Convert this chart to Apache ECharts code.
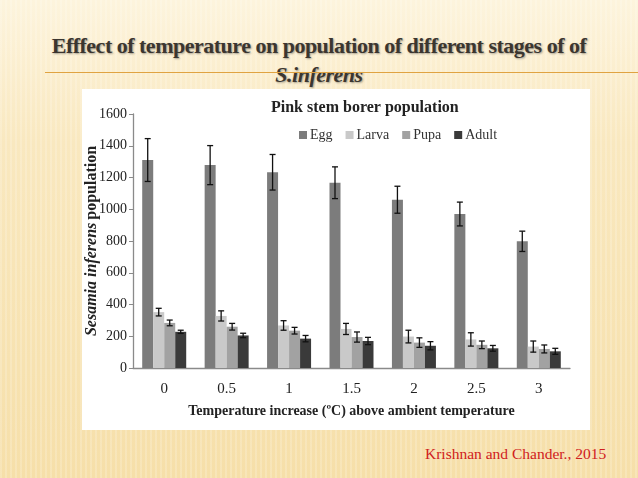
<!DOCTYPE html>
<html>
<head>
<meta charset="utf-8">
<script src="https://cdn.jsdelivr.net/npm/echarts@6/dist/echarts.min.js"></script>
<style>
  html, body { margin: 0; padding: 0; }
  body {
    width: 638px; height: 478px; position: relative; overflow: hidden;
    background:
      repeating-linear-gradient(90deg, rgba(255,255,255,0.18) 0 2px, rgba(0,0,0,0) 2px 5px),
      linear-gradient(180deg, #fdf4dd 0%, #f9e8bf 30%, #f6dfa9 100%);
  }
  #title {
    position: absolute; left: 0; top: 31px; width: 638px; text-align: center;
    font-family: "Liberation Serif", serif; font-weight: bold; font-size: 22px;
    letter-spacing: -0.5px;
    line-height: 29px; color: #3b3630; text-shadow: 1px 1px 2px rgba(0,0,0,0.35);
  }
  #rule { position: absolute; left: 45px; top: 72px; width: 593px; height: 1px; background: #e0a341; }
  #chart { position: absolute; left: 82px; top: 89px; width: 508px; height: 341px; background: #fff; }
  #cite {
    position: absolute; left: 425px; top: 445px;
    font-family: "Liberation Serif", serif; font-size: 15.5px; color: #d02020;
  }
</style>
</head>
<body>
<div id="title">Efffect of temperature on population of different stages of of<br><i>S.inferens</i></div>
<div id="rule"></div>
<div id="chart"></div>
<div id="cite">Krishnan and Chander., 2015</div>
<script>
var temps = ['0', '0.5', '1', '1.5', '2', '2.5', '3'];
var stages = ['Egg', 'Larva', 'Pupa', 'Adult'];
var egg = [1310, 1278, 1233, 1167, 1060, 970, 798];
var eggErr = [135, 123, 112, 100, 85, 75, 64];
var larva = [352, 328, 268, 246, 198, 180, 135];
var larvaErr = [24, 32, 30, 35, 40, 42, 35];
var pupa = [284, 260, 235, 195, 160, 146, 120];
var pupaErr = [18, 21, 21, 32, 30, 24, 25];
var adult = [228, 205, 185, 170, 140, 124, 105];
var adultErr = [10, 14, 20, 23, 26, 18, 19];
var yTicks = [0, 1600, 200];

var values = [egg, larva, pupa, adult];
var errors = [eggErr, larvaErr, pupaErr, adultErr];
var colors = ['#7c7c7c', '#c9c9c9', '#a2a2a2', '#3a3a3a'];
var barW = 11;
var serif = '"Liberation Serif", "Times New Roman", serif';

var chart = echarts.init(document.getElementById('chart'));

var series = [];
stages.forEach(function (name, i) {
  series.push({
    name: name,
    type: 'bar',
    barWidth: barW,
    barGap: '0%',
    itemStyle: { color: colors[i] },
    data: values[i]
  });
});

// error bars, one custom series per stage, shifted onto its bar
stages.forEach(function (name, i) {
  var shift = (i - 1.5) * barW;
  series.push({
    type: 'custom',
    z: 10,
    data: values[i].map(function (v, k) { return [k, v - errors[i][k], v + errors[i][k]]; }),
    encode: { x: 0, y: [1, 2] },
    renderItem: function (params, api) {
      var lo = api.coord([api.value(0), api.value(1)]);
      var hi = api.coord([api.value(0), api.value(2)]);
      var x = lo[0] + shift;
      var cap = 3;
      var st = { stroke: '#111', lineWidth: 1.3 };
      return {
        type: 'group',
        children: [
          { type: 'line', shape: { x1: x, y1: lo[1], x2: x, y2: hi[1] }, style: st },
          { type: 'line', shape: { x1: x - cap, y1: lo[1], x2: x + cap, y2: lo[1] }, style: st },
          { type: 'line', shape: { x1: x - cap, y1: hi[1], x2: x + cap, y2: hi[1] }, style: st }
        ]
      };
    }
  });
});

var option = {
  animation: false,
  textStyle: { fontFamily: serif },
  title: {
    text: 'Pink stem borer population',
    left: 184, top: 6,
    textStyle: { fontFamily: serif, fontWeight: 'bold', fontSize: 16, color: '#222' }
  },
  legend: {
    data: stages,
    left: 212, top: 34,
    itemWidth: 8, itemHeight: 8, itemGap: 13,
    icon: 'rect',
    textStyle: { fontFamily: serif, fontSize: 14, color: '#333', padding: [0, 0, 0, -2] }
  },
  grid: { left: 51, right: 20, top: 25, bottom: 62, containLabel: false, outerBoundsMode: 'none' },
  xAxis: {
    type: 'category',
    data: temps,
    name: 'Temperature increase (ºC) above ambient temperature',
    nameLocation: 'middle',
    nameGap: 36,
    nameMoveOverlap: false,
    nameTextStyle: { fontFamily: serif, fontWeight: 'bold', fontSize: 14, color: '#222' },
    axisLine: { lineStyle: { color: '#8a8a8a', width: 1.3 } },
    axisTick: { lineStyle: { color: '#8a8a8a' }, length: 4 },
    axisLabel: { fontFamily: serif, fontSize: 15, color: '#222', margin: 14 }
  },
  yAxis: {
    type: 'value',
    min: yTicks[0], max: yTicks[1], interval: yTicks[2],
    name: '{i|Sesamia inferens} {b|population}',
    nameLocation: 'middle',
    nameGap: 33,
    nameMoveOverlap: false,
    nameTextStyle: {
      rich: {
        i: { fontFamily: serif, fontWeight: 'bold', fontStyle: 'italic', fontSize: 16, color: '#222' },
        b: { fontFamily: serif, fontWeight: 'bold', fontSize: 16, color: '#222' }
      }
    },
    axisLine: { show: true, lineStyle: { color: '#8a8a8a', width: 1.3 } },
    axisTick: { show: true, lineStyle: { color: '#8a8a8a' }, length: 4 },
    splitLine: { show: false },
    axisLabel: {
      fontFamily: serif, fontSize: 14, color: '#222', margin: 6,
      formatter: function (v) { return String(v); }
    }
  },
  series: series
};

chart.setOption(option);
</script>
</body>
</html>
